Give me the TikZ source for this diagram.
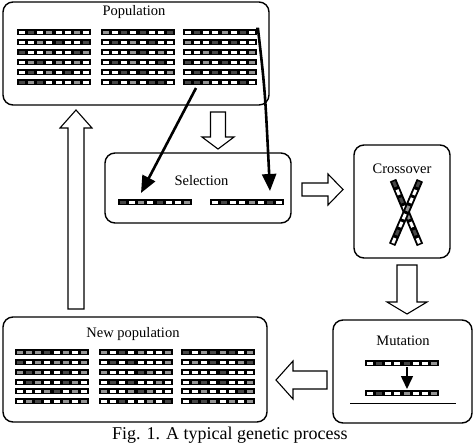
\documentclass[tikz,border=0pt]{standalone}
\usepackage{fontspec}
\setmainfont{Liberation Serif}
\usetikzlibrary{arrows.meta}
\colorlet{genew}{white}
\colorlet{geneg}{black!42}
\colorlet{gened}{black!72}
\def\chrlen{74}
\newcommand\chr[3]{%
  \fill[black] (#1,#2-3.4) rectangle ++(\chrlen,6.8);
  \foreach \c [count=\i from 0] in {#3} {
    \fill[fill=gene\c] (#1+\i*\chrlen/8+1.6,#2-1.5) rectangle ++(\chrlen/8-3.2,3.0);
  }
}
\tikzset{
  box/.style={draw, line width=1.4pt, rounded corners=10pt, inner sep=0pt},
  lbl/.style={font=\fontsize{14.5}{17}\selectfont, inner sep=0pt, anchor=base},
  harrow/.style={draw, line width=1.1pt, fill=white, line join=miter},
  blkarrow/.style={line width=2.6pt, -{Triangle[length=17pt,width=14pt]}},
}
\begin{document}
\begin{tikzpicture}[x=1pt,y=-1pt]
\useasboundingbox (0,0) rectangle (474,445);
% boxes
\node[box, minimum width=266pt, minimum height=103pt] (pop) at (136,53.5) {};
\node[box, minimum width=186pt, minimum height=70pt] (sel) at (198,188) {};
\node[box, minimum width=96pt, minimum height=113pt] (cross) at (402,201.5) {};
\node[box, minimum width=139pt, minimum height=103pt] (mut) at (402.5,371.5) {};
\node[box, minimum width=264pt, minimum height=105pt] (newpop) at (135,369.5) {};
% labels
\node[lbl] (tpop) at (134,15) {Population};
\node[lbl] (tsel) at (201.5,185) {Selection};
\node[lbl] (tcross) at (402,173) {Crossover};
\node[lbl] (tmut) at (403,345) {Mutation};
\node[lbl] (tnew) at (133,337) {New population};
\node[lbl, anchor=base west, font=\fontsize{18}{21}\selectfont] (cap) at (112,439.5) {Fig. 1. A typical genetic process};
% population chromosomes
\chr{17}{32}{w,d,w,g,w,w,g,w}
\chr{17}{42}{w,w,g,w,d,w,w,d}
\chr{17}{52}{d,w,w,g,w,w,d,g}
\chr{17}{62}{w,g,d,w,g,w,g,w}
\chr{17}{72}{w,d,w,g,w,d,w,w}
\chr{17}{82}{d,g,d,w,w,w,g,w}
\chr{101}{32}{g,w,d,w,d,w,w,d}
\chr{101}{42}{w,d,w,g,w,d,w,w}
\chr{101}{52}{w,w,w,g,d,w,g,w}
\chr{101}{62}{w,d,w,g,w,w,d,w}
\chr{101}{72}{w,w,d,w,d,w,w,g}
\chr{101}{82}{w,d,w,g,w,d,d,w}
\chr{183}{32}{w,d,w,w,g,w,d,w}
\chr{183}{42}{g,w,w,d,w,d,w,w}
\chr{183}{52}{w,w,g,d,w,w,w,g}
\chr{183}{62}{d,w,g,w,d,w,w,g}
\chr{183}{72}{w,d,w,d,w,d,w,g}
\chr{183}{82}{d,d,g,w,w,w,d,w}
% selection chromosomes
\chr{118}{202}{d,w,g,w,d,w,w,g}
\chr{210}{202}{w,d,w,w,g,w,d,w}
% crossover
\begin{scope}[shift={(406.5,212.5)}, rotate=-67.4]
  \def\chrlen{70}
  \chr{-35}{0}{d,w,d,w,g,w,d,w}
\end{scope}
\begin{scope}[shift={(406,212.5)}, rotate=66.7]
  \def\chrlen{70}
  \chr{-35}{0}{w,d,w,w,g,w,w,d}
\end{scope}
% mutation
\chr{365}{363}{w,d,w,w,d,w,w,g}
\chr{365}{393}{w,d,w,w,g,w,w,g}
\coordinate (mt) at (407,367);
\coordinate (mb) at (407,389);
\draw[line width=1.5pt, -{Triangle[length=13pt,width=12pt]}] (mt) -- (mb);
\coordinate (ml1) at (350,403);
\coordinate (ml2) at (456,403);
\draw[line width=1pt] (ml1) -- (ml2);
% new population chromosomes
\chr{15}{352}{g,g,g,d,w,g,w,g}
\chr{15}{362}{d,w,g,w,g,g,w,g}
\chr{15}{372}{g,d,g,w,w,d,w,g}
\chr{15}{382}{w,d,g,w,w,d,g,w}
\chr{15}{391}{w,w,w,g,d,w,g,w}
\chr{15}{401}{w,g,d,w,w,g,w,g}
\chr{99}{352}{g,w,d,w,g,w,w,g}
\chr{99}{362}{w,d,w,d,w,w,w,g}
\chr{99}{372}{g,w,w,w,d,g,w,g}
\chr{99}{382}{w,d,w,d,w,w,g,w}
\chr{99}{391}{g,w,w,g,d,g,w,w}
\chr{99}{401}{w,w,d,w,w,g,w,d}
\chr{181}{352}{d,w,g,d,g,d,w,g}
\chr{181}{362}{w,g,w,d,w,w,g,d}
\chr{181}{372}{w,w,w,w,d,w,w,w}
\chr{181}{382}{w,g,d,w,d,w,w,g}
\chr{181}{391}{w,w,g,w,w,w,d,g}
\chr{181}{401}{w,d,d,g,w,g,w,g}
% selection arrows
\coordinate (s1) at (196,88);
\coordinate (e1) at (141,193);
\draw[blkarrow] (s1) -- (e1);
\coordinate (s2) at (256,29);
\coordinate (e2) at (270,191);
\draw[blkarrow] (s2) -- (258,29) .. controls (265,90) .. (e2);
% hollow arrows
\draw[harrow] (210.5,112) -- (225.5,112) -- (225.5,137) -- (234,137) -- (218,149) -- (202,137) -- (210.5,137) -- cycle;
\draw[harrow] (302,183) -- (328,183) -- (328,174) -- (343,189.5) -- (328,205) -- (328,196) -- (302,196) -- cycle;
\draw[harrow] (397,265) -- (417,265) -- (417,302) -- (427,302) -- (407,314) -- (387,302) -- (397,302) -- cycle;
\draw[harrow] (327,371) -- (293,371) -- (293,361) -- (276,380) -- (293,399) -- (293,389) -- (327,389) -- cycle;
\draw[harrow] (68,309) -- (68,128) -- (60,128) -- (76,110) -- (92,128) -- (84,128) -- (84,309) -- cycle;
\end{tikzpicture}
\end{document}
